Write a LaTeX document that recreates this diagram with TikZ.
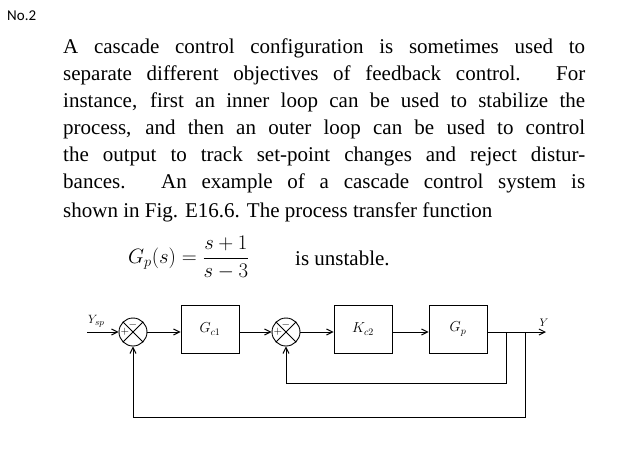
\documentclass[tikz,border=0pt]{standalone}
\usepackage{fontspec}
\setmainfont{Liberation Serif}
\newfontfamily\calib{Carlito}
\usetikzlibrary{arrows.meta}
\begin{document}
\begin{tikzpicture}[x=1pt,y=-1pt,
  blk/.style={draw,line width=0.9pt,minimum width=58pt,minimum height=48pt,font=\fontsize{14}{16}\selectfont},
  sumj/.style={draw,circle,line width=0.9pt,minimum size=28pt,inner sep=0pt},
  sig/.style={line width=1pt,-{Straight Barb[length=6pt,width=6pt]}},
  txt/.style={anchor=west,inner sep=0pt,font=\fontsize{21}{24}\selectfont}]
\useasboundingbox (0,0) rectangle (632,451);
\fill[white] (0,0) rectangle (632,451);
\node[anchor=west,inner sep=0pt,font=\calib\fontsize{15}{17}\selectfont] (no) at (7,16) {No.2};
\foreach \t [count=\i] in {
{A cascade control configuration is sometimes used to},
{separate different objectives of feedback control. For},
{instance, first an inner loop can be used to stabilize the},
{process, and then an outer loop can be used to control},
{the output to track set-point changes and reject distur-},
{bances. An example of a cascade control system is}}
  \node[txt] (l\i) at (63,{21+\i*27}) {\makebox[522pt][s]{\t}};
\node[txt] (l7) at (63,212) {shown in Fig. E16.6. The process transfer function};
\node[anchor=west,inner sep=0pt,font=\fontsize{20}{22}\selectfont] (eq) at (128,258) {$G_p(s)=\displaystyle\frac{s+1}{s-3}$};
\node[anchor=west,inner sep=0pt,font=\fontsize{21}{22}\selectfont] (uns) at (295,258) {is unstable.};
% block diagram
\node[sumj] (s1) at (133,332) {};
\node[blk] (gc) at (210,329) {$G_{c1}$};
\node[sumj] (s2) at (286,332) {};
\node[blk] (kc) at (363,329) {$K_{c2}$};
\node[blk] (gp) at (458,329) {$G_p$};
\foreach \s in {s1,s2}{
  \draw[line width=0.8pt] (\s.north west) -- (\s.south east) (\s.north east) -- (\s.south west);
  \node[font=\fontsize{11}{11}\selectfont,inner sep=0pt] at ([xshift=-8pt]\s.center) {$+$};
  \node[font=\fontsize{11}{11}\selectfont,inner sep=0pt] at ([yshift=7pt]\s.center) {$-$};
}
\coordinate (in) at (87,332);
\coordinate (out) at (546,332);
\coordinate (t1) at (506,332);
\coordinate (t2) at (525,332);
\node[font=\fontsize{13}{14}\selectfont,anchor=south west,inner sep=1pt] (ysp) at (87,328) {$Y_{sp}$};
\node[font=\fontsize{11}{12}\selectfont,anchor=south,inner sep=1pt] (y) at (544,328) {$Y$};
\draw[sig] (in) -- (s1);
\draw[sig] (s1) -- (s1 -| gc.west);
\draw[sig] (s2 -| gc.east) -- (s2);
\draw[sig] (s2) -- (s2 -| kc.west);
\draw[sig] (s2 -| kc.east) -- (s2 -| gp.west);
\draw[sig] (s2 -| gp.east) -- (out);
\draw[sig] (t1) -- (506,383) -- (286,383) -- (s2);
\draw[sig] (t2) -- (525,417) -- (133,417) -- (s1);
\end{tikzpicture}
\end{document}
